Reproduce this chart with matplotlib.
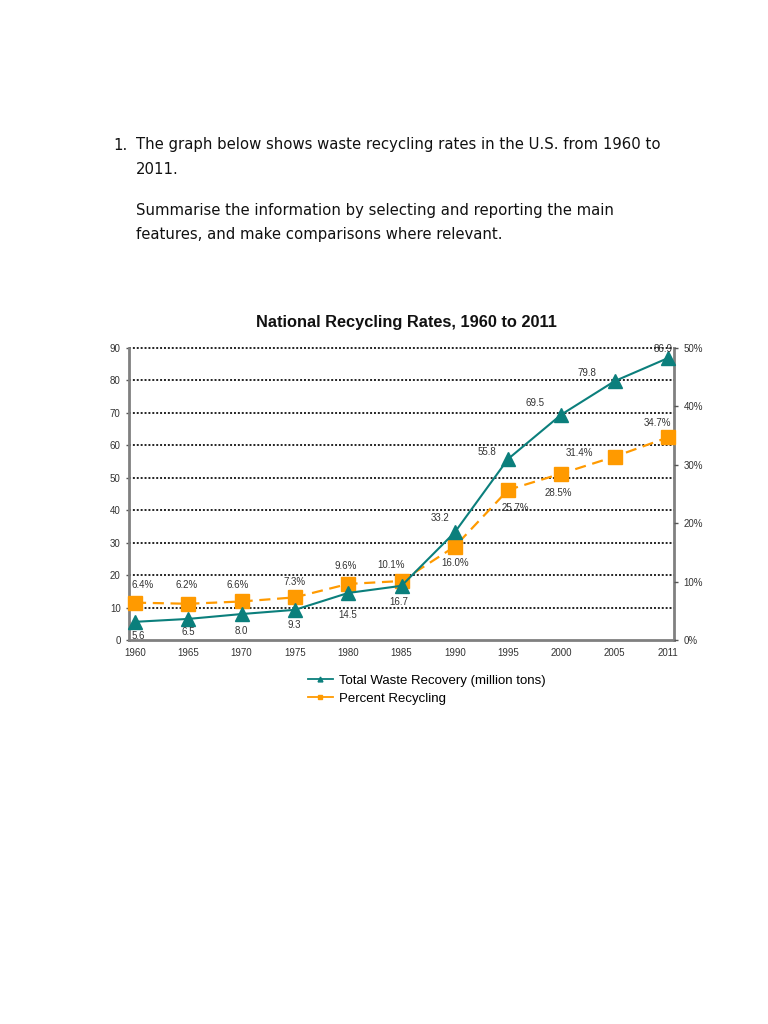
import matplotlib
matplotlib.use("Agg")
import matplotlib.pyplot as plt
import numpy as np
from matplotlib.lines import Line2D

years = ["1960", "1965", "1970", "1975", "1980", "1985", "1990", "1995", "2000", "2005", "2011"]
total_recovery = [5.6, 6.5, 8.0, 9.3, 14.5, 16.7, 33.2, 55.8, 69.5, 79.8, 86.9]
percent_recycling = [6.4, 6.2, 6.6, 7.3, 9.6, 10.1, 16.0, 25.7, 28.5, 31.4, 34.7]
total_labels = ["5.6", "6.5", "8.0", "9.3", "14.5", "16.7", "33.2", "55.8", "69.5", "79.8", "86.9"]
percent_labels = ["6.4%", "6.2%", "6.6%", "7.3%", "9.6%", "10.1%", "16.0%", "25.7%", "28.5%", "31.4%", "34.7%"]
left_ticks = [0, 10, 20, 30, 40, 50, 60, 70, 80, 90]
right_ticks = [0, 10, 20, 30, 40, 50]

title = "National Recycling Rates, 1960 to 2011"
series_names = ["Total Waste Recovery (million tons)", "Percent Recycling"]

# label offsets in pixels (style)
total_offsets = [(3, -14), (0, -13), (0, -17), (-1, -15), (-1, -22), (-3, -16),
                 (-15, 14), (-21, 7), (-26, 12), (-28, 8), (-5, 9)]
pct_offsets = [(8, 18), (-2, 19), (-4, 16), (0, 15), (-3, 18), (-10, 16),
               (0, -16), (7, -18), (-3, -19), (-35, 4), (-11, 14)]

TEAL = "#0b7f7c"
ORANGE = "#ff9a00"
W, H = 768, 1024
fig = plt.figure(figsize=(W / 100, H / 100), dpi=100)
fig.patch.set_facecolor("white")

def fx(px):
    return px / W

def fy(py):
    return 1 - py / H

body = dict(fontsize=10.75, family="DejaVu Sans", color="#111111", va="center")
fig.text(fx(113), fy(145), "1.", **body)
fig.text(fx(136), fy(145), "The graph below shows waste recycling rates in the U.S. from 1960 to", **body)
fig.text(fx(136), fy(170), "2011.", **body)
fig.text(fx(136), fy(210), "Summarise the information by selecting and reporting the main", **body)
fig.text(fx(136), fy(234), "features, and make comparisons where relevant.", **body)

left, right, top, bottom = 129, 674, 348, 640
ax = fig.add_axes([fx(left), fy(bottom), fx(right - left), (bottom - top) / H])
x = np.arange(len(years))
step = 53.3
ax.set_xlim(-6 / step, len(years) - 1 + 6 / step)
ax.set_ylim(0, 90)
ax.set_yticks(left_ticks)
ax.set_yticklabels([str(t) for t in left_ticks], fontsize=7, color="#333333", family="Liberation Sans")
ax.set_xticks(x)
ax.set_xticklabels(years, fontsize=7, color="#333333", family="Liberation Sans")
ax.tick_params(axis="x", length=0, pad=6)
ax.tick_params(axis="y", length=2, width=1, color="#555555", pad=4)
for yv in left_ticks[1:]:
    ax.axhline(yv, color="#222222", lw=1.4, ls=(0, (1, 1)), zorder=1, clip_on=False)
for s in ["left", "right", "bottom"]:
    ax.spines[s].set_color("#808080")
    ax.spines[s].set_linewidth(2)
ax.spines["top"].set_visible(False)

ax2 = ax.twinx()
ax2.set_ylim(0, 50)
ax2.set_yticks(right_ticks)
ax2.set_yticklabels([f"{t}%" for t in right_ticks], fontsize=7, color="#333333", family="Liberation Sans")
ax2.tick_params(axis="y", length=3, width=1, color="#555555", pad=4)
for s in ax2.spines.values():
    s.set_visible(False)

ax2.plot(x, percent_recycling, color=ORANGE, lw=1.6, ls=(0, (5, 3)), marker="s",
         markersize=9.5, markerfacecolor=ORANGE, markeredgecolor=ORANGE, zorder=3, clip_on=False)
ax2.plot(x, [v * 50 / 90 for v in total_recovery], color=TEAL, lw=1.5, marker="^",
         markersize=9.5, markerfacecolor=TEAL, markeredgecolor=TEAL, zorder=4, clip_on=False)

for i in range(len(years)):
    ax2.annotate(total_labels[i], (x[i], total_recovery[i] * 50 / 90), xytext=total_offsets[i],
                 textcoords="offset pixels", ha="center", va="center", fontsize=7,
                 color="#333333", family="Liberation Sans", zorder=5)
    ax2.annotate(percent_labels[i], (x[i], percent_recycling[i]), xytext=pct_offsets[i],
                 textcoords="offset pixels", ha="center", va="center", fontsize=7,
                 color="#333333", family="Liberation Sans", zorder=5)

fig.text(fx(406), fy(323), title, ha="center", va="center", fontsize=11.8,
         fontweight="bold", family="Liberation Sans", color="#111111")

h1 = Line2D([], [], color=TEAL, lw=1.3, marker="^", markersize=3.5)
h2 = Line2D([], [], color=ORANGE, lw=1.3, marker="s", markersize=3.5)
fig.legend([h1, h2], series_names, loc="upper left", bbox_to_anchor=(fx(296), fy(663)),
           frameon=False, handlelength=1.9, handletextpad=0.45,
           labelspacing=0.4, prop={"family": "Liberation Sans", "size": 9.5})

fig.savefig("out.png", dpi=100, facecolor="white")
